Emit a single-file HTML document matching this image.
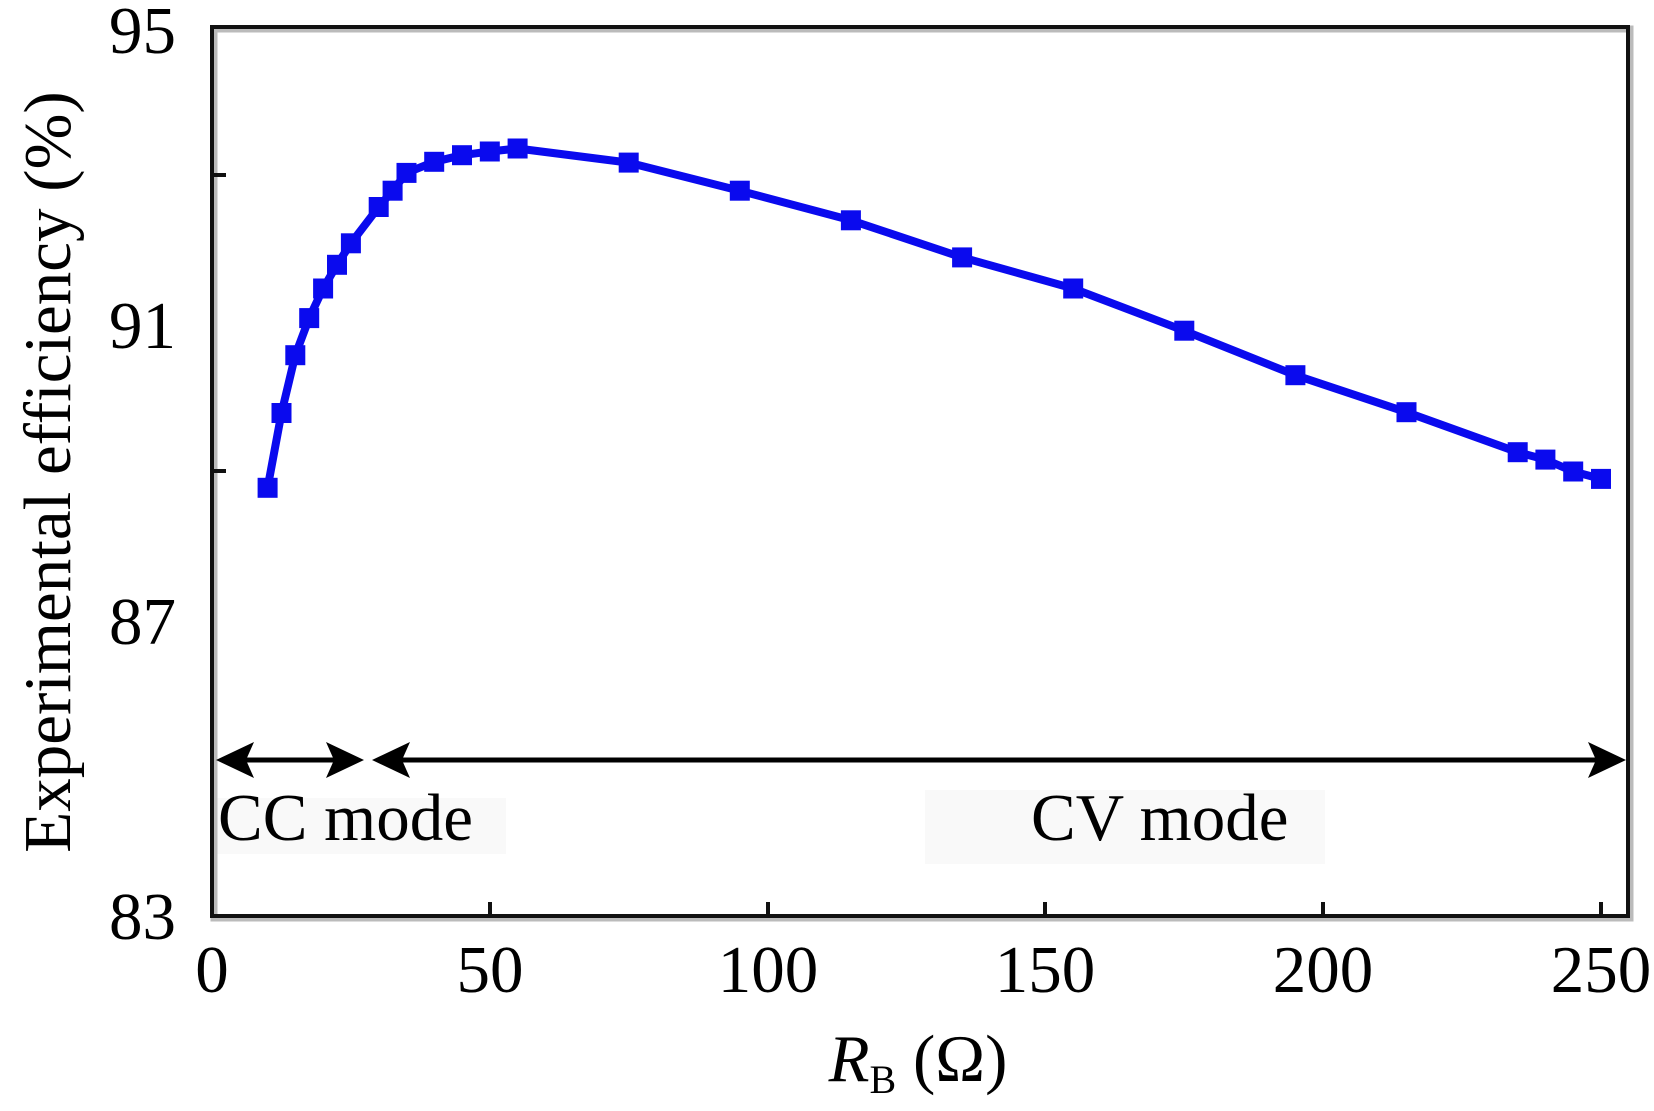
<!DOCTYPE html>
<html><head><style>body{margin:0;background:#fff}svg{display:block}</style></head>
<body>
<svg width="1654" height="1111" xmlns="http://www.w3.org/2000/svg" font-family="Liberation Serif, serif">
<rect x="0" y="0" width="1654" height="1111" fill="#fff"/>
<rect x="214" y="798" width="292" height="56" fill="#f9f9f9"/>
<rect x="925" y="790" width="400" height="74" fill="#f9f9f9"/>
<rect x="212" y="27" width="1416" height="889" fill="none" stroke="#bbb" stroke-width="7" transform="translate(2,2)"/>
<rect x="212" y="27" width="1416" height="889" fill="none" stroke="#111" stroke-width="4"/>
<g stroke="#111" stroke-width="4">
<line x1="490" y1="916" x2="490" y2="902"/><line x1="768" y1="916" x2="768" y2="902"/><line x1="1045" y1="916" x2="1045" y2="902"/><line x1="1323" y1="916" x2="1323" y2="902"/><line x1="1601" y1="916" x2="1601" y2="902"/>
<line x1="212" y1="175" x2="226" y2="175"/><line x1="212" y1="471" x2="226" y2="471"/>
</g>
<g font-size="67" fill="#000">
<text x="176" y="53" text-anchor="end">95</text>
<text x="176" y="348" text-anchor="end">91</text>
<text x="176" y="644" text-anchor="end">87</text>
<text x="176" y="939" text-anchor="end">83</text>
<g text-anchor="middle">
<text x="212" y="992">0</text><text x="490" y="992">50</text><text x="768" y="992">100</text><text x="1045" y="992">150</text><text x="1323" y="992">200</text><text x="1601" y="992">250</text>
</g>
<text x="918" y="1081" text-anchor="middle"><tspan font-style="italic">R</tspan><tspan font-size="40" dy="12">B</tspan><tspan dy="-12"> (Ω)</tspan></text>
<text transform="translate(70,472) rotate(-90)" text-anchor="middle">Experimental efficiency (%)</text>
<text x="218" y="840">CC mode</text>
<text x="1031" y="840">CV mode</text>
</g>
<g stroke="#000" stroke-width="5">
<line x1="228" y1="760" x2="352" y2="760"/><line x1="382" y1="760" x2="1612" y2="760"/>
</g>
<g fill="#000">
<polygon points="216,760 254,742 246,760 254,778"/>
<polygon points="364,760 326,742 334,760 326,778"/>
<polygon points="372,760 410,742 402,760 410,778"/>
<polygon points="1626,760 1588,742 1596,760 1588,778"/>
</g>
<polyline fill="none" stroke="#0a0aee" stroke-width="8" stroke-linejoin="round" points="267.6,487.8 281.5,413 295.3,355.2 309.2,318.1 323.1,288.5 337,264.8 350.9,243.3 378.7,207 392.6,190.7 406.5,172.9 434.2,161.8 462,155.2 489.8,151.5 517.6,148.5 628.7,162.6 739.8,190.7 850.9,220.3 962.1,257.4 1073.2,288.5 1184.3,330.7 1295.4,375.2 1406.5,412.2 1517.7,452.2 1545.4,459.6 1573.2,471.5 1601,478.9"/>
<g fill="#0a0aee">
<rect x="257.6" y="477.8" width="20" height="20"/><rect x="271.5" y="403" width="20" height="20"/><rect x="285.3" y="345.2" width="20" height="20"/><rect x="299.2" y="308.1" width="20" height="20"/><rect x="313.1" y="278.5" width="20" height="20"/><rect x="327" y="254.8" width="20" height="20"/><rect x="340.9" y="233.3" width="20" height="20"/><rect x="368.7" y="197" width="20" height="20"/><rect x="382.6" y="180.7" width="20" height="20"/><rect x="396.5" y="162.9" width="20" height="20"/><rect x="424.2" y="151.8" width="20" height="20"/><rect x="452" y="145.2" width="20" height="20"/><rect x="479.8" y="141.5" width="20" height="20"/><rect x="507.6" y="138.5" width="20" height="20"/><rect x="618.7" y="152.6" width="20" height="20"/><rect x="729.8" y="180.7" width="20" height="20"/><rect x="840.9" y="210.3" width="20" height="20"/><rect x="952.1" y="247.4" width="20" height="20"/><rect x="1063.2" y="278.5" width="20" height="20"/><rect x="1174.3" y="320.7" width="20" height="20"/><rect x="1285.4" y="365.2" width="20" height="20"/><rect x="1396.5" y="402.2" width="20" height="20"/><rect x="1507.7" y="442.2" width="20" height="20"/><rect x="1535.4" y="449.6" width="20" height="20"/><rect x="1563.2" y="461.5" width="20" height="20"/><rect x="1591" y="468.9" width="20" height="20"/>
</g>
</svg>
</body></html>
